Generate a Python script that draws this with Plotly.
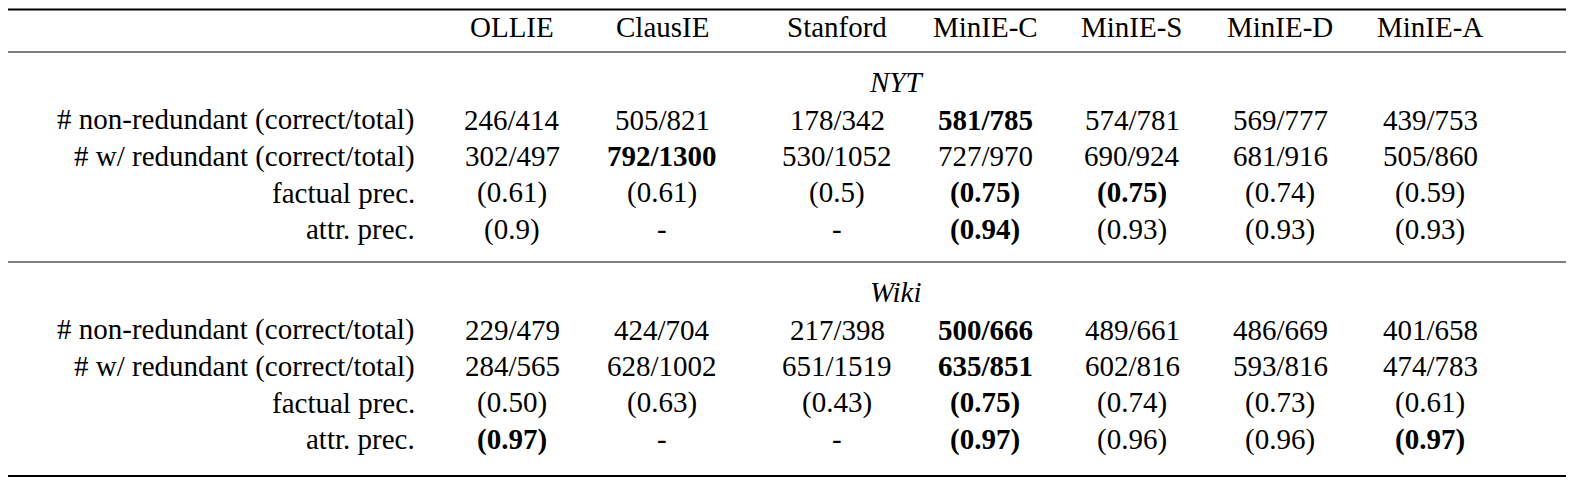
import plotly.graph_objects as go

systems = ["OLLIE", "ClausIE", "Stanford", "MinIE-C", "MinIE-S", "MinIE-D", "MinIE-A"]
row_labels = ["# non-redundant (correct/total)", "# w/ redundant (correct/total)", "factual prec.", "attr. prec."]
nyt = [
    ["246/414", "505/821", "178/342", "<b>581/785</b>", "574/781", "569/777", "439/753"],
    ["302/497", "<b>792/1300</b>", "530/1052", "727/970", "690/924", "681/916", "505/860"],
    ["(0.61)", "(0.61)", "(0.5)", "<b>(0.75)</b>", "<b>(0.75)</b>", "(0.74)", "(0.59)"],
    ["(0.9)", "-", "-", "<b>(0.94)</b>", "(0.93)", "(0.93)", "(0.93)"],
]
wiki = [
    ["229/479", "424/704", "217/398", "<b>500/666</b>", "489/661", "486/669", "401/658"],
    ["284/565", "628/1002", "651/1519", "<b>635/851</b>", "602/816", "593/816", "474/783"],
    ["(0.50)", "(0.63)", "(0.43)", "<b>(0.75)</b>", "(0.74)", "(0.73)", "(0.61)"],
    ["<b>(0.97)</b>", "-", "-", "<b>(0.97)</b>", "(0.96)", "(0.96)", "<b>(0.97)</b>"],
]
sections = [("<i>NYT</i>", nyt), ("<i>Wiki</i>", wiki)]

W, H = 1578, 495
OFF = 8  # page body margin
col_x = [512, 662, 837, 985, 1132, 1280, 1430]
label_x = 417
header_y = 27
section_y = [82, 292]
row_dy = 36.5
FS = 29
font = dict(family="Liberation Serif, Times New Roman, serif", size=FS, color="black")

ann = []
def add(x, y, t, anchor="center"):
    ann.append(dict(x=x, y=y, text=t, showarrow=False, xref="x", yref="y",
                    xanchor=anchor, yanchor="middle", font=font))

for x, s in zip(col_x, systems):
    add(x, header_y, s)
for sy, (title, data) in zip(section_y, sections):
    add((col_x[2] + col_x[3]) / 2 - 15, sy, title)
    for i, (lab, row) in enumerate(zip(row_labels, data)):
        y = sy + row_dy * (i + 1) + 1
        add(label_x, y, lab, "right")
        for x, v in zip(col_x, row):
            add(x, y, v)

shapes = []
for y, w in [(9.5, 2.2), (52, 1.1), (262, 1.1), (476, 2.2)]:
    shapes.append(dict(type="line", xref="x", yref="y", x0=OFF, x1=1566, y0=y, y1=y,
                       line=dict(color="black", width=w)))

fig = go.Figure()
fig.update_layout(width=W, height=H, margin=dict(l=0, r=0, t=0, b=0),
                  plot_bgcolor="white", paper_bgcolor="white",
                  xaxis=dict(range=[OFF, W + OFF], visible=False, fixedrange=True),
                  yaxis=dict(range=[H + OFF, OFF], visible=False, fixedrange=True),
                  annotations=ann, shapes=shapes, showlegend=False)
fig.write_html("out.html")
